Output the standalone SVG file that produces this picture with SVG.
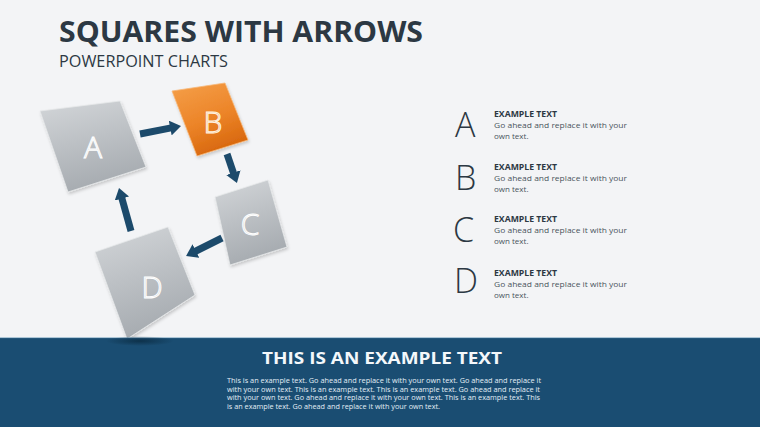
<svg xmlns="http://www.w3.org/2000/svg" width="760" height="427" viewBox="0 0 760 427">
<defs>
<linearGradient id="grey" x1="0" y1="0" x2="0.3" y2="1">
<stop offset="0" stop-color="#d3d6d9"/>
<stop offset="1" stop-color="#a7acb1"/>
</linearGradient>
<linearGradient id="orange" x1="0" y1="0" x2="0.4" y2="1">
<stop offset="0" stop-color="#f5a04a"/>
<stop offset="0.6" stop-color="#ec8428"/>
<stop offset="1" stop-color="#d9690f"/>
</linearGradient>
<radialGradient id="shadow" cx="0.5" cy="0.5" r="0.5">
<stop offset="0" stop-color="#0a2a40" stop-opacity="0.8"/>
<stop offset="1" stop-color="#0a2a40" stop-opacity="0"/>
</radialGradient>
<marker id="head" markerUnits="userSpaceOnUse" markerWidth="11" markerHeight="15" viewBox="0 0 11 15" refX="1" refY="7.5" orient="auto">
<path d="M0,0 L11,7.5 L0,15 z" fill="#1c4a6b"/>
</marker>
<filter id="ds" x="-20%" y="-20%" width="140%" height="140%">
<feDropShadow dx="1" dy="2" stdDeviation="1.5" flood-color="#000" flood-opacity="0.18"/>
</filter>
</defs>
<style>
.sq{fill:url(#grey);stroke:#e6e8ea;stroke-width:0.8;filter:url(#ds)}
.sqo{fill:url(#orange);stroke:#f8b878;stroke-width:0.8;filter:url(#ds)}
.sl{font-family:"Open Sans","Noto Sans",sans-serif;font-weight:300;font-size:30px;text-anchor:middle;fill:#c9cdd1;stroke:#ffffff;stroke-width:1}
.slo{fill:#f0b070;stroke:#fff3e2}
.arr{stroke:#1c4a6b;stroke-width:7;fill:none;marker-end:url(#head)}
.big{font-family:"Open Sans","Noto Sans",sans-serif;font-weight:300;font-size:34px;fill:#2c3843}
.h{font-family:"Open Sans","Noto Sans",sans-serif;font-weight:700;font-size:8px;fill:#2c3843}
.d{font-family:"Open Sans","Noto Sans",sans-serif;font-size:8px;fill:#4a545d}
.body{font-family:"Open Sans","Noto Sans",sans-serif;font-size:7.5px;fill:#e3eef6}
</style>
<rect x="0" y="0" width="760" height="427" fill="#f3f4f6"/>
<text x="59" y="42" font-family="'Open Sans','Noto Sans',sans-serif" font-weight="700" font-size="28" fill="#2c3843" textLength="364" lengthAdjust="spacingAndGlyphs">SQUARES WITH ARROWS</text>
<text x="59" y="67" font-family="'Open Sans','Noto Sans',sans-serif" font-size="15.5" fill="#2c3843" textLength="169" lengthAdjust="spacingAndGlyphs">POWERPOINT CHARTS</text>

<g id="connectors">
<line class="arr" x1="140" y1="134" x2="171.2" y2="127.9"/>
<line class="arr" x1="227" y1="154" x2="233.7" y2="173.6"/>
<line class="arr" x1="222" y1="238" x2="195" y2="251.5"/>
<line class="arr" x1="131" y1="231" x2="121.7" y2="197.6"/>
</g>

<g id="nodeA">
<polygon class="sq" points="40,111 120,101 146,167 68,192"/>
<text class="sl" x="93" y="158">A</text>
</g>
<g id="nodeB">
<polygon class="sqo" points="172,91 225,83 248,140 197,156"/>
<text class="sl slo" x="213" y="133">B</text>
</g>
<g id="nodeC">
<polygon class="sq" points="215,197 268,180 287,247 230,265"/>
<text class="sl" x="250" y="235">C</text>
</g>
<g id="nodeD">
<polygon class="sq" points="95,252 168,227 195,295 127,339"/>
<text class="sl" x="152" y="298">D</text>
</g>

<rect x="0" y="338" width="760" height="89" fill="#1a4d72"/>
<rect x="0" y="337" width="760" height="1.2" fill="#7fa8c4" opacity="0.6"/>
<ellipse cx="140" cy="341" rx="34" ry="5" fill="url(#shadow)"/>

<g id="legend">
<text class="big" x="455" y="137">A</text>
<text class="h" x="494" y="117" textLength="63" lengthAdjust="spacingAndGlyphs">EXAMPLE TEXT</text>
<text class="d" x="494" y="128" textLength="133" lengthAdjust="spacingAndGlyphs">Go ahead and replace it with your</text>
<text class="d" x="494" y="139">own text.</text>
<text class="big" x="455" y="190">B</text>
<text class="h" x="494" y="169.5" textLength="63" lengthAdjust="spacingAndGlyphs">EXAMPLE TEXT</text>
<text class="d" x="494" y="180.5" textLength="133" lengthAdjust="spacingAndGlyphs">Go ahead and replace it with your</text>
<text class="d" x="494" y="191.5">own text.</text>
<text class="big" x="453" y="242">C</text>
<text class="h" x="494" y="222" textLength="63" lengthAdjust="spacingAndGlyphs">EXAMPLE TEXT</text>
<text class="d" x="494" y="233" textLength="133" lengthAdjust="spacingAndGlyphs">Go ahead and replace it with your</text>
<text class="d" x="494" y="244">own text.</text>
<text class="big" x="454" y="293">D</text>
<text class="h" x="494" y="275.5" textLength="63" lengthAdjust="spacingAndGlyphs">EXAMPLE TEXT</text>
<text class="d" x="494" y="286.5" textLength="133" lengthAdjust="spacingAndGlyphs">Go ahead and replace it with your</text>
<text class="d" x="494" y="297.5">own text.</text>
</g>

<text x="382" y="364" text-anchor="middle" font-family="'Open Sans','Noto Sans',sans-serif" font-weight="700" font-size="16" fill="#f4f8fb" textLength="240" lengthAdjust="spacingAndGlyphs">THIS IS AN EXAMPLE TEXT</text>
<text class="body" x="227" y="383" textLength="314" lengthAdjust="spacingAndGlyphs">This is an example text. Go ahead and replace it with your own text. Go ahead and replace it</text>
<text class="body" x="227" y="391.5" textLength="313" lengthAdjust="spacingAndGlyphs">with your own text. This is an example text. This is an example text. Go ahead and replace it</text>
<text class="body" x="227" y="400" textLength="313" lengthAdjust="spacingAndGlyphs">with your own text. Go ahead and replace it with your own text. This is an example text. This</text>
<text class="body" x="227" y="408.5" textLength="213" lengthAdjust="spacingAndGlyphs">is an example text. Go ahead and replace it with your own text.</text>
</svg>
